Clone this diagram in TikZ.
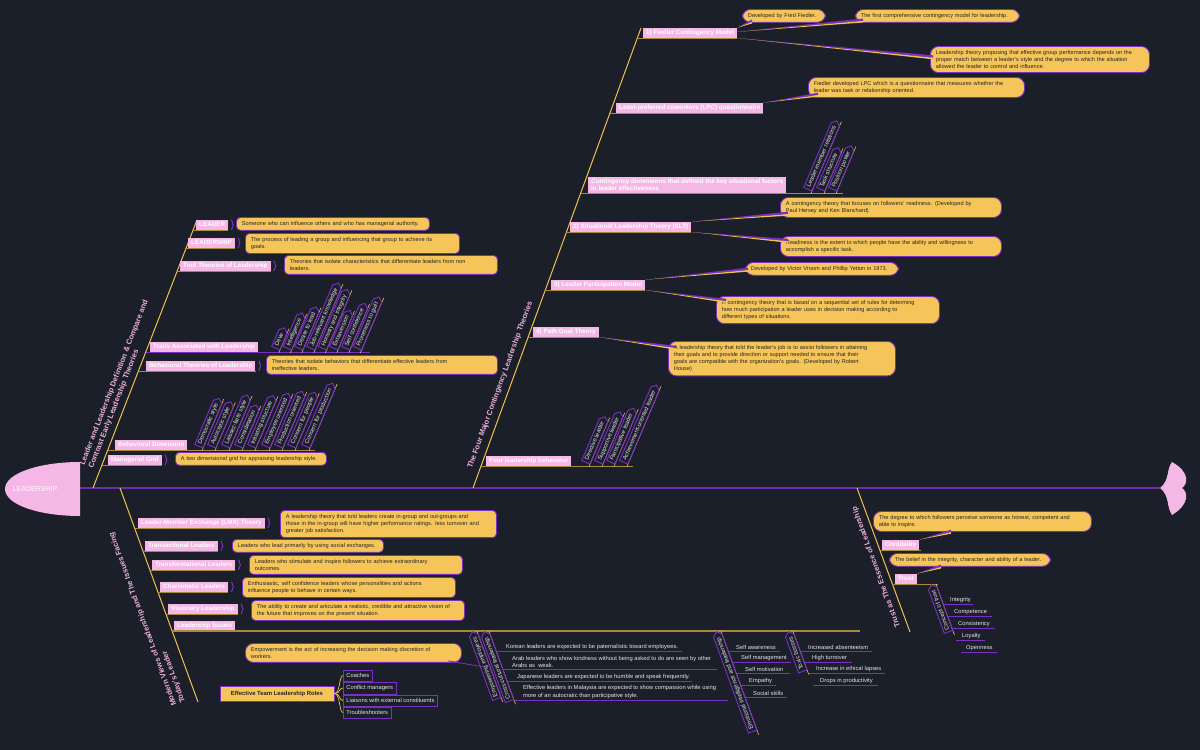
\documentclass[tikz,border=0pt]{standalone}
\usepackage{fontspec}
\setmainfont{Liberation Sans}
\usetikzlibrary{calc,decorations.pathreplacing}
\definecolor{bg}{HTML}{1B1F29}
\definecolor{pinkf}{HTML}{F5B8E6}
\definecolor{ttl}{HTML}{F0B2DC}
\definecolor{calf}{HTML}{F5C55A}
\definecolor{purp}{HTML}{7A30C2}
\definecolor{spine}{HTML}{6B2EA6}
\definecolor{yel}{HTML}{F2C04E}
\definecolor{gold}{HTML}{A88A3C}
\definecolor{tagtx}{HTML}{E6E6E6}
\tikzset{
  lbl/.style={fill=pinkf,text=white,font=\fontsize{6.3}{7.6}\selectfont\bfseries,inner xsep=3pt,inner ysep=1.8pt,text height=4.9pt,text depth=1.4pt,anchor=south west},
  lbltwo/.style={fill=pinkf,text=white,font=\fontsize{6.3}{7.8}\selectfont\bfseries,inner xsep=3pt,inner ysep=1.8pt,align=left,anchor=south west},
  call/.style={fill=calf,draw=purp,line width=0.9pt,rounded corners=4pt,text=black!85,font=\fontsize{5.6}{7.2}\selectfont,align=left,inner xsep=5.5pt,inner ysep=3.8pt,anchor=north west,text width=#1},
  pill/.style={call=#1,rounded corners=8pt},
  brln/.style={gold,line width=0.8pt},
  brc/.style={purp,line width=1pt,decorate,decoration={brace,amplitude=2pt}},
  tagtxt/.style={text=tagtx,font=\fontsize{5.9}{7}\selectfont,inner xsep=2pt,inner ysep=1.5pt,text height=4.4pt,text depth=1.2pt},
  tagbox/.style={purp,line width=0.9pt},
  tagstem/.style={yel,line width=0.6pt},
  item/.style={text=tagtx,font=\fontsize{5.8}{7.2}\selectfont,inner sep=1pt,anchor=south west,align=left},
  itemln/.style={purp,line width=0.8pt},
  ttlsty/.style={text=ttl,font=\fontsize{7.5}{9.2}\selectfont\bfseries,align=left,inner sep=1pt},
  role/.style={anchor=west,draw=purp,line width=0.8pt,text=tagtx,font=\fontsize{5.8}{7}\selectfont,inner xsep=3pt,minimum height=10.5pt},
}
\newcommand\uptag[3]{%
  \node[tagtxt,rotate=67,anchor=south west] (#1) at (#2) {#3};
  \draw[tagstem] ($(#1.south west)!-3pt!(#1.south east)$) -- ($(#1.south east)!-5pt!(#1.south west)$);
  \draw[tagbox] (#1.north west) -- (#1.south west) -- (#1.south east) -- ($(#1.east)!-4pt!(#1.west)$) -- (#1.north east) -- cycle;
}
\newcommand\dntag[3]{%
  \node[tagtxt,rotate=110,anchor=south east] (#1) at (#2) {#3};
  \draw[tagstem] ($(#1.south east)!-3pt!(#1.south west)$) -- ($(#1.south west)!-5pt!(#1.south east)$);
  \draw[tagbox] (#1.north west) -- (#1.south west) -- (#1.south east) -- ($(#1.east)!-4pt!(#1.west)$) -- (#1.north east) -- cycle;
}
% two-tone tapered connector: from label point #1 to callout point #2
\newcommand\ribbon[2]{%
  \fill[purp] (#1) -- ($(#2)+(0,-2.2)$) -- ($(#2)+(0,0.2)$) -- cycle;
  \fill[yel] (#1) -- ($(#2)+(0,0.2)$) -- ($(#2)+(0,1.8)$) -- cycle;
}
\begin{document}
\begin{tikzpicture}[x=1pt,y=-1pt]
\fill[bg] (0,0) rectangle (1200,750);
\useasboundingbox (0,0) rectangle (1200,750);

% spine
\coordinate (sp0) at (70,488);
\coordinate (sp1) at (1160,488);
\draw[spine,line width=1.2pt] (sp0) -- (sp1);
% head
\fill[pinkf] (80,462) -- (80,516) .. controls (40,516) and (5,505) .. (5,489) .. controls (5,473) and (40,462) .. (80,462) -- cycle;
\node[text=white,font=\fontsize{7}{8}\selectfont] (head) at (35,489) {LEADERSHIP};
% tail
\fill[pinkf] (1160,488) .. controls (1170,480) and (1166,470) .. (1172,462) .. controls (1190,472) and (1188,484) .. (1182,488) .. controls (1188,492) and (1190,504) .. (1172,515) .. controls (1166,506) and (1170,496) .. (1160,488) -- cycle;

% ===== Branch 1 =====
\coordinate (b1s) at (93,488); \coordinate (b1e) at (197,220);
\draw[yel,line width=1pt] (b1s) -- (b1e);
\node[ttlsty,rotate=68.8,anchor=south west] (t1) at (95,471) {Leader and Leadership Definition \& Compare and\\Contrast Early Leadership Theories};

\node[lbl] (L1) at (196,230) {LEADER};
\draw[brln] (193,230) -- (L1.south east);
\node[call=182pt] (C1) at (236,217) {Someone who can influence others and who has managerial authority.};
\draw[brc] ($(L1.north east)+(3,0)$) -- ($(L1.south east)+(3,0)$);

\node[lbl] (L2) at (188,248) {LEADERSHIP};
\draw[brln] (186,248) -- (L2.south east);
\node[call=203pt] (C2) at (245,233) {The process of leading a group and influencing that group to achieve its\\goals.};
\draw[brc] ($(L2.north east)+(3,0)$) -- ($(L2.south east)+(3,0)$);

\node[lbl] (L3) at (180,271) {Trait Theories of Leadership};
\draw[brln] (177,271) -- (L3.south east);
\node[call=202pt] (C3) at (284,255) {Theories that isolate characteristics that differentiate leaders from non\\leaders.};
\draw[brc] ($(L3.north east)+(3,0)$) -- ($(L3.south east)+(3,0)$);

\node[lbl] (L4) at (150,352) {Traits Associated with Leadership};
\draw[purp,line width=0.8pt] (146,352) -- (370,352);
\uptag{ta1}{280,350}{Drive}
\uptag{ta2}{291.6,350}{Intelligence}
\uptag{ta3}{303,350}{Desire to lead}
\uptag{ta4}{315,350}{Job-relevant knowledge}
\uptag{ta5}{326.6,350}{Honesty and integrity}
\uptag{ta6}{338,350}{Extraversion}
\uptag{ta7}{350,350}{Self confidence}
\uptag{ta8}{361.6,350}{Proneness to guilt}

\node[lbl] (L5) at (146,371) {Behavioral Theories of Leadership};
\draw[brln] (138,371) -- (L5.south east);
\node[call=220pt] (C5) at (266,355) {Theories that isolate behaviors that differentiate effective leaders from\\ineffective leaders.};
\draw[brc] ($(L5.north east)+(3,0)$) -- ($(L5.south east)+(3,0)$);

\node[lbl] (L6) at (115,450) {Behavioral Dimension};
\draw[brln] (108,450) -- (315,450);
\uptag{bd1}{203,448}{Democratic style}
\uptag{bd2}{216,448}{Autocratic style}
\uptag{bd3}{230,448}{Laissez-faire style}
\uptag{bd4}{243,448}{Consideration}
\uptag{bd5}{256,448}{Initiating structure}
\uptag{bd6}{270,448}{Employee oriented}
\uptag{bd7}{283,448}{Production oriented}
\uptag{bd8}{296,448}{Concern for people}
\uptag{bd9}{310,448}{Concern for production}

\node[lbl] (L7) at (108,465) {Managerial Grid};
\draw[brln] (102,465) -- (L7.south east);
\node[call=140pt] (C7) at (175,452) {A two dimensional grid for appraising leadership style.};
\draw[brc] ($(L7.north east)+(3,0)$) -- ($(L7.south east)+(3,0)$);

% ===== Branch 2 =====
\coordinate (b2s) at (473,488); \coordinate (b2e) at (641,28);
\draw[yel,line width=1pt] (b2s) -- (b2e);
\node[ttlsty,rotate=70,anchor=south west] (t2) at (474,471) {The Four Major Contingency Leadership Theories};

\node[lbl] (F1) at (643,38) {1) Fiedler Contingency Model};
\draw[brln] (637,38) -- (F1.south east);
\node[pill=72pt] (FC1) at (742,9) {Developed by Fred Fiedler.};
\node[pill=153pt] (FC2) at (855,9) {The first comprehensive contingency model for leadership.};
\node[pill=208pt] (FC3) at (930,46) {Leadership theory proposing that effective group performance depends on the\\proper match between a leader's style and the degree to which the situation\\allowed the leader to control and influence.};
\ribbon{F1.north east}{$(FC1.south west)+(10,-1)$}
\ribbon{$(F1.east)+(0,-1)$}{$(FC2.south west)+(8,-2)$}
\ribbon{F1.south east}{$(FC3.west)+(3,-2)$}

\node[lbl] (F2) at (616,113) {Least-preferred coworkers (LPC) questionnaire};
\draw[brln] (610,113) -- (F2.south east);
\node[pill=205pt] (FC4) at (808,77) {Fiedler developed LPC which is a questionnaire that measures whether the\\leader was task or relationship oriented.};
\ribbon{F2.north east}{$(FC4.south west)+(10,-3)$}

\node[lbltwo] (F3) at (588,193) {Contingency dimensions that defined the key situational factors\\in leader effectiveness};
\draw[brln] (581,193) -- (843,193);
\uptag{cd1}{812,191}{Leader-member relations}
\uptag{cd2}{825,191}{Task structure}
\uptag{cd3}{837,191}{Position power}

\node[lbl] (F4) at (570,232) {2) Situational Leadership Theory (SLT)};
\draw[brln] (566,232) -- (F4.south east);
\node[pill=210pt] (FC5) at (780,197) {A contingency theory that focuses on followers' readiness. (Developed by\\Paul Hersey and Ken Blanchard)};
\node[pill=210pt] (FC6) at (780,236) {Readiness is the extent to which people have the ability and willingness to\\accomplish a specific task.};
\ribbon{F4.north east}{$(FC5.south west)+(8,-4)$}
\ribbon{F4.south east}{$(FC6.north west)+(8,5)$}

\node[lbl] (F5) at (551,290) {3) Leader Participation Model};
\draw[brln] (545,290) -- (F5.south east);
\node[pill=142pt] (FC7) at (745,262) {Developed by Victor Vroom and Phillip Yetton in 1973.};
\node[pill=212pt] (FC8) at (716,296) {A contingency theory that is based on a sequential set of rules for determing\\how much participation a leader uses in decision making according to\\different types of situations.};
\ribbon{F5.north east}{$(FC7.west)+(3,1)$}
\ribbon{F5.south east}{$(FC8.north west)+(10,5)$}

\node[lbl] (F6) at (533,337) {4) Path Goal Theory};
\draw[brln] (528,337) -- (F6.south east);
\node[pill=216pt] (FC9) at (668,341) {A leadership theory that told the leader's job is to assist followers in attaining\\their goals and to provide direction or support needed to ensure that their\\goals are compatible with the organization's goals. (Developed by Robert\\House)};
\ribbon{F6.south east}{$(FC9.north west)+(8,7)$}

\node[lbl] (F7) at (486,466) {Four leadership behaviour};
\draw[brln] (481,466) -- (633,466);
\uptag{fl1}{590,464}{Directive leader}
\uptag{fl2}{603,464}{Supportive leader}
\uptag{fl3}{615,464}{Participative leader}
\uptag{fl4}{628,464}{Achievement-oriented leader}

% ===== Branch 3 =====
\coordinate (b3s) at (120,488); \coordinate (b3e) at (198,702);
\draw[yel,line width=1pt] (b3s) -- (b3e);
\node[ttlsty,rotate=110,anchor=south west] (t3) at (188,702) {Modern Views of Leadership and The Issues Facing\\Today's Leader};

\node[lbl] (M1) at (138,528) {Leader-Member Exchange (LMX) Theory};
\draw[brln] (134.6,528) -- (M1.south east);
\node[call=205pt] (MC1) at (280,510) {A leadership theory that told leaders create in-group and out-groups and\\those in the in-group will have higher performance ratings. less turnover and\\greater job satisfaction.};
\draw[brc] ($(M1.north east)+(3,0)$) -- ($(M1.south east)+(3,0)$);

\node[lbl] (M2) at (145,551) {Transactional Leaders};
\draw[brln] (143,551) -- (M2.south east);
\node[call=140pt] (MC2) at (232,539) {Leaders who lead primarily by using social exchanges.};
\draw[brc] ($(M2.north east)+(3,0)$) -- ($(M2.south east)+(3,0)$);

\node[lbl] (M3) at (152,570) {Transformational Leaders};
\draw[brln] (150,570) -- (M3.south east);
\node[call=202pt] (MC3) at (249,555) {Leaders who stimulate and inspire followers to achieve extraordinary\\outcomes.};
\draw[brc] ($(M3.north east)+(3,0)$) -- ($(M3.south east)+(3,0)$);

\node[lbl] (M4) at (160,592) {Charismatic Leaders};
\draw[brln] (158,592) -- (M4.south east);
\node[call=202pt] (MC4) at (242,577) {Enthusiastic, self confidence leaders whose personalities and actions\\influence people to behave in certain ways.};
\draw[brc] ($(M4.north east)+(3,0)$) -- ($(M4.south east)+(3,0)$);

\node[lbl] (M5) at (168,614) {Visionary Leadership};
\draw[brln] (166,614) -- (M5.south east);
\node[call=202pt] (MC5) at (251,600) {The ability to create and articulate a realistic, credible and attractive vision of\\the future that improves on the present situation.};
\draw[brc] ($(M5.north east)+(3,0)$) -- ($(M5.south east)+(3,0)$);

\node[lbl] (M6) at (174,631) {Leadership Issues};
\draw[gold,line width=1.4pt] (172,631) -- (860,631);
\dntag{lt1}{478,634}{Empowering employees}
\dntag{lt2}{490,634}{Cross-cultural leadership}
\dntag{lt3}{722,634}{Emotional intelligence and leadership}
\dntag{lt4}{794,634}{Toxic bosses}

\node[pill=205pt] (EC) at (245,643) {Empowerment is the act of increasing the decision making discretion of\\workers.};
\draw[purp,line width=0.8pt] ($(EC.south east)+(-14,-2)$) -- (lt1.center);

\node[item] (cc1) at (505,650.5) {Korean leaders are expected to be paternalistic toward employees.};
\draw[itemln] (497.3,651) -- (682,651);
\node[item] (cc2) at (511,668.5) {Arab leaders who show kindness without being asked to do are seen by other\\Arabs as~~weak.};
\draw[itemln] (503.8,669) -- (717,669);
\node[item] (cc3) at (516,680.5) {Japanese leaders are expected to be humble and speak frequently.};
\draw[itemln] (508.2,681) -- (692,681);
\node[item] (cc4) at (522,699.5) {Effective leaders in Malaysia are expected to show compassion while using\\more of an autocratic than participative style.};
\draw[itemln] (515,700) -- (728,700);

\node[item] (ei1) at (735,650.5) {Self awareness};
\draw[itemln] (729,651) -- (780,651);
\node[item] (ei2) at (740,661.5) {Self management};
\draw[itemln] (732.8,662) -- (791,662);
\node[item] (ei3) at (744,672.5) {Self motivation};
\draw[itemln] (736.7,673) -- (790,673);
\node[item] (ei4) at (748,684.5) {Empathy};
\draw[itemln] (740.8,685) -- (776,685);
\node[item] (ei5) at (752,696.5) {Social skills};
\draw[itemln] (745,697) -- (787,697);

\node[item] (tx1) at (807,650.5) {Increased absenteeism};
\draw[itemln] (801,651) -- (872,651);
\node[item] (tx2) at (811,661.5) {High turnover};
\draw[itemln] (804.9,662) -- (852,662);
\node[item] (tx3) at (815,672.5) {Increase in ethical lapses};
\draw[itemln] (808.7,673) -- (885,673);
\node[item] (tx4) at (819,684.5) {Drops in productivity};
\draw[itemln] (813,685) -- (878,685);

\node[anchor=center,fill=calf,draw=purp,line width=0.8pt,text=black!85,font=\fontsize{5.9}{7}\selectfont\bfseries,minimum width=114pt,minimum height=15pt] (etl) at (277,693.5) {Effective Team Leadership Roles};
\node[role] (r1) at (343,675.5) {Coaches};
\node[role] (r2) at (343,688) {Conflict managers};
\node[role] (r3) at (343,700.5) {Liaisons with external constituents};
\node[role] (r4) at (343,712.5) {Troubleshooters};
\foreach \r in {r1,r2,r3,r4}
  \draw[yel,line width=0.7pt] (etl.east) .. controls +(6,0) and +(-4,0) .. (\r.west);

% ===== Branch 4 =====
\coordinate (b4s) at (857,488); \coordinate (b4e) at (910,632);
\draw[yel,line width=1pt] (b4s) -- (b4e);
\node[ttlsty,rotate=110,anchor=south west] (t4) at (903,627) {Trust as The Essence of Leadership};

\node[lbl] (R1) at (882,550) {Credibility};
\draw[brln] (880,550) -- ($(R1.south east)+(2,0)$);
\node[pill=207pt] (RC1) at (873,511) {The degree to which followers perceive someone as honest, competent and\\able to inspire.};
\ribbon{R1.north east}{$(RC1.south west)+(78,0)$}

\node[lbl] (R2) at (895,584) {Trust};
\draw[brln] (892,584) -- (938,584);
\node[pill=150pt] (RC2) at (889,553) {The belief in the integrity, character and ability of a leader.};
\ribbon{R2.north east}{$(RC2.south west)+(52,0)$}
\dntag{ct}{937,587}{Concept of trust}
\node[item] (ct1) at (949,603.5) {Integrity};
\draw[itemln] (944,604) -- (973,604);
\node[item] (ct2) at (953,615.5) {Competence};
\draw[itemln] (948,616) -- (992,616);
\node[item] (ct3) at (957,627.5) {Consistency};
\draw[itemln] (952,628) -- (995,628);
\node[item] (ct4) at (961,639.5) {Loyalty};
\draw[itemln] (956.4,640) -- (985,640);
\node[item] (ct5) at (965,651.5) {Openness};
\draw[itemln] (960.6,652) -- (997,652);
\end{tikzpicture}
\end{document}
